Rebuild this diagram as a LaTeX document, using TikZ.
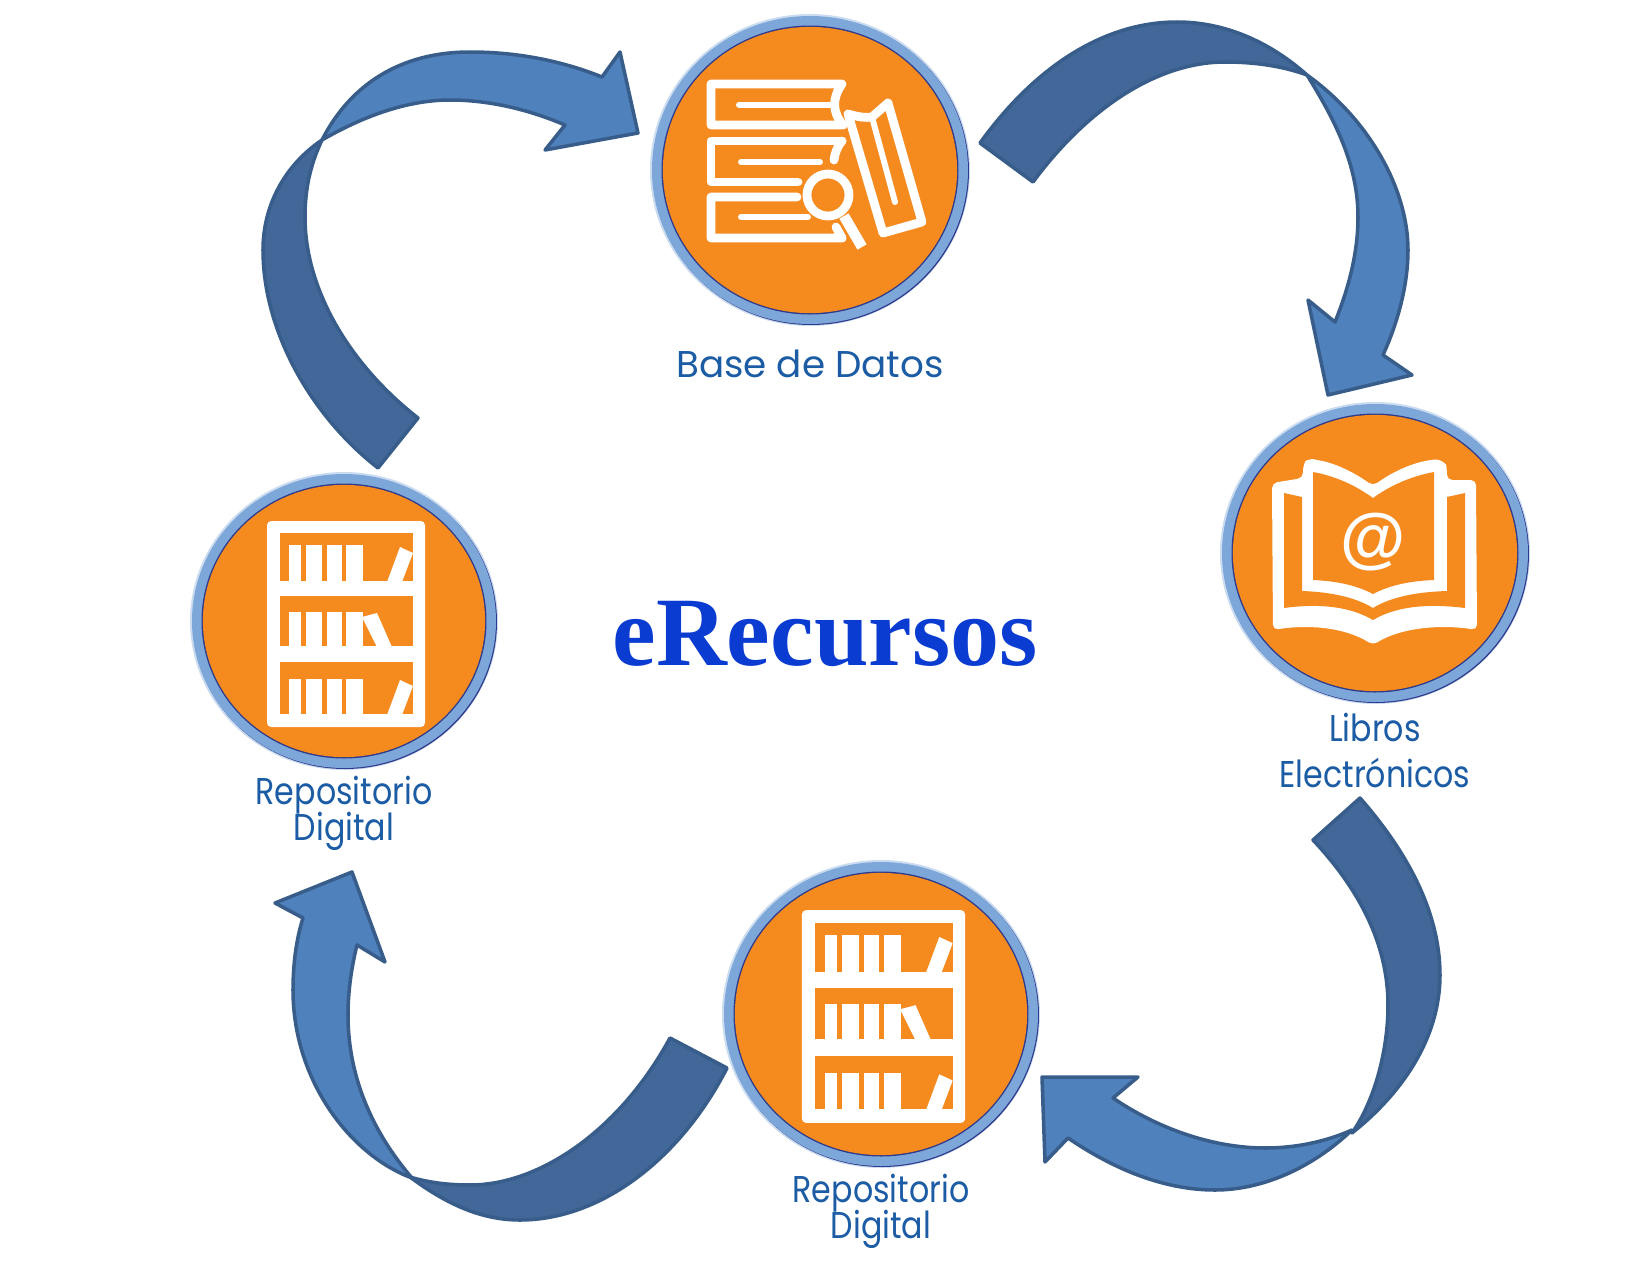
\documentclass[tikz,border=0pt]{standalone}
\usepackage{fontspec}
\usetikzlibrary{positioning,shapes.geometric}
\newfontfamily\labelfont{Poppins}
\newfontfamily\narrowfont[FakeStretch=0.85]{Poppins}
\newfontfamily\titlefont{Liberation Serif}
\newfontfamily\atfont{Liberation Sans}
\definecolor{discOrange}{HTML}{F58A1F}
\definecolor{ringBlue}{HTML}{7DA7D9}
\definecolor{ringNavy}{HTML}{2E3A8C}
\definecolor{arrowEdge}{HTML}{385D8A}
\definecolor{tailBlue}{HTML}{426899}
\definecolor{headBlue}{HTML}{4F81BD}
\definecolor{labelBlue}{HTML}{1B5CA4}
\definecolor{titleBlue}{HTML}{0B3CD2}
%% one shelf unit, drawn around the origin of its scope
\newcommand{\shelfIcon}{%
  \fill[white,rounded corners=1.2pt] (-79,-103) rectangle (79,103);
  \foreach \shelftop/\shelfbase/\booktop in {-91/-43/-79, -28/22/-12, 38/90/55}
  {
    \fill[discOrange] (-66,\shelftop) rectangle (67,\shelfbase);
    \foreach \bookleft/\bookright in {-57/-45, -40/-24, -19/-4, 0/17}
      \fill[white] (\bookleft,\booktop) rectangle (\bookright,\shelfbase+1);
  }
  \fill[white] (41,-42) -- (54,-77) -- (67,-71) -- (56,-42) -- cycle;
  \fill[white] (16,-7) -- (31,-11) -- (46,23) -- (31,23) -- cycle;
  \fill[white] (41,91) -- (54,56) -- (67,62) -- (56,91) -- cycle;
}
\begin{document}
\begin{tikzpicture}
[x=0.01cm,y=-0.01cm,%
  discDecorate/.style={shape=ellipse,inner sep=0pt,fill=discOrange},%
  textDecorate/.style={inner sep=0pt,align=center,text=labelBlue},%
  iconLine/.style={draw=white,line width=2.5pt,line cap=round,line join=round},%
  iconThin/.style={draw=white,line width=1.7pt,line cap=round,line join=round},%
  arrowTail/.style={fill=tailBlue,draw=arrowEdge,line width=1pt,line join=round},%
  arrowHead/.style={fill=headBlue,draw=arrowEdge,line width=1pt,line join=round}]
\useasboundingbox (0,0) rectangle (1650,1275);
%% rings, discs and captions
\foreach \nodename/\x/\y/\rx/\ry/\gap/\capfont/\nodetext in {
  baseDatos/810/170/147/143/10pt/\labelfont/{Base de Datos},
  librosElec/1375/553/142/138/6pt/\narrowfont/{Libros\\[2.8pt]Electrónicos},
  repoLeft/344/621/141/136/5pt/\narrowfont/{Repositorio\\[-1.7pt]Digital},
  repoBottom/881/1014/146/141/5pt/\narrowfont/{Repositorio\\[-1.7pt]Digital}}
{
  \fill[ringBlue,opacity=0.4] (\x,\y) ellipse [x radius=\rx+13,y radius=\ry+13];
  \fill[ringNavy] (\x+1,\y+1) ellipse [x radius=\rx+11,y radius=\ry+11];
  \fill[ringBlue] (\x,\y) ellipse [x radius=\rx+11,y radius=\ry+11];
  \fill[ringNavy] (\x,\y) ellipse [x radius=\rx+1.5,y radius=\ry+1.5];
  \node (\nodename) at (\x,\y) [discDecorate,minimum width=\rx*0.02cm,minimum height=\ry*0.02cm] {};
  \node (\nodename Text) [textDecorate,font=\capfont\fontsize{10.6}{10}\selectfont,below=\gap of \nodename] {\nodetext};
}
\node (title) at (825,665) [anchor=base,inner sep=0pt,text=titleBlue,
  font=\titlefont\bfseries\fontsize{27.9}{30}\selectfont] {eRecursos};
%% arrows, tail part and head part
\draw[arrowTail] (980,143) .. controls (1040,60) and (1110,22) .. (1177,22) .. controls (1225,22) and (1270,42) .. (1307,75)
  .. controls (1280,65) and (1250,62) .. (1225,62) .. controls (1160,62) and (1090,105) .. (1033,182) -- cycle;
\draw[arrowHead] (1307,75) .. controls (1370,120) and (1408,190) .. (1408,250) .. controls (1408,285) and (1398,322) .. (1383,355)
  -- (1412,375) -- (1328,395) -- (1308,300) -- (1335,322)
  .. controls (1350,285) and (1358,250) .. (1358,217) .. controls (1358,165) and (1335,120) .. (1307,75) -- cycle;
\draw[arrowTail] (378,468) .. controls (310,415) and (263,330) .. (263,250) .. controls (263,205) and (285,165) .. (322,140)
  .. controls (310,165) and (305,190) .. (305,217) .. controls (305,290) and (350,365) .. (418,418) -- cycle;
\draw[arrowHead] (322,140) .. controls (350,85) and (400,52) .. (470,52) .. controls (515,52) and (560,60) .. (602,77)
  -- (620,52) -- (638,133) -- (545,150) -- (565,125)
  .. controls (530,110) and (490,100) .. (450,100) .. controls (405,100) and (360,118) .. (322,140) -- cycle;
\draw[arrowTail] (1360,798) .. controls (1410,855) and (1440,915) .. (1440,975) .. controls (1440,1040) and (1400,1095) .. (1352,1133)
  .. controls (1375,1100) and (1388,1050) .. (1388,1005) .. controls (1388,945) and (1360,890) .. (1313,840) -- cycle;
\draw[arrowHead] (1352,1130) .. controls (1310,1170) and (1260,1190) .. (1215,1190) .. controls (1165,1190) and (1115,1170) .. (1068,1138)
  -- (1045,1162) -- (1042,1077) -- (1138,1077) -- (1113,1098)
  .. controls (1160,1130) and (1215,1148) .. (1265,1148) .. controls (1295,1148) and (1325,1142) .. (1352,1130) -- cycle;
\draw[arrowTail] (727,1068) .. controls (680,1160) and (600,1220) .. (520,1220) .. controls (480,1220) and (445,1203) .. (410,1177)
  .. controls (430,1183) and (450,1185) .. (470,1185) .. controls (540,1185) and (620,1130) .. (670,1038) -- cycle;
\draw[arrowHead] (412,1178) .. controls (350,1155) and (293,1080) .. (293,990) .. controls (293,965) and (296,940) .. (303,918)
  -- (275,903) -- (352,872) -- (385,962) -- (357,945)
  .. controls (352,965) and (348,990) .. (348,1015) .. controls (348,1080) and (375,1135) .. (412,1178) -- cycle;
%% book stack and magnifier
\draw[iconLine] (842,84) -- (711,84) -- (711,125) -- (843,125) .. controls (832,112) and (832,98) .. (842,84);
\draw[iconThin] (739,105) -- (830,105);
\draw[iconLine] (842,141) -- (711,141) -- (711,182) -- (798,182);
\draw[iconLine] (842,141) .. controls (837,147) and (835,153) .. (834,160);
\draw[iconThin] (741,162) -- (820,162);
\draw[iconLine] (797,197) -- (711,197) -- (711,238) -- (842,238) .. controls (840,234) and (838,231) .. (836,227);
\draw[iconThin] (741,217) -- (808,217);
\draw[iconLine] (828,195) circle [radius=21];
\draw[line width=3pt,white] (844,216) -- (862,247);
\draw[iconLine] (848,114) .. controls (858,117) and (866,118) .. (872,117) -- (888,103) -- (922,222) -- (883,233) -- cycle;
\draw[iconThin] (872,117) -- (895,202);
%% open book
\fill[white,rounded corners=1.5pt] (1272,483) -- (1303,478) -- (1303,466) .. controls (1306,460) and (1312,459) .. (1318,460)
  .. controls (1340,465) and (1358,475) .. (1373,486) .. controls (1388,475) and (1406,465) .. (1430,460)
  .. controls (1440,459) and (1446,464) .. (1447,470) -- (1447,480) -- (1476,480) -- (1477,630)
  .. controls (1440,624) and (1400,628) .. (1373,645) .. controls (1346,628) and (1310,624) .. (1273,630) -- cycle;
\fill[discOrange] (1313,472) .. controls (1335,476) and (1355,485) .. (1373,498) .. controls (1391,485) and (1412,476) .. (1434,472)
  -- (1434,580) .. controls (1410,581) and (1390,585) .. (1373,594) .. controls (1356,585) and (1336,581) .. (1313,580) -- cycle;
\fill[discOrange] (1284,493) -- (1302,497) -- (1302,591) .. controls (1330,592) and (1355,597) .. (1373,608)
  .. controls (1391,597) and (1416,592) .. (1447,591) -- (1447,497) -- (1465,493) -- (1465,608)
  .. controls (1425,603) and (1395,607) .. (1373,620) .. controls (1351,607) and (1321,603) .. (1284,608) -- cycle;
\node (atSign) at (1373,542) [inner sep=0pt,text=white,font=\atfont\bfseries\fontsize{19}{19}\selectfont] {@};
%% shelves
\begin{scope}[shift={(346,624)}]
  \shelfIcon
\end{scope}
\begin{scope}[shift={(883.5,1016.5)},scale=1.033]
  \shelfIcon
\end{scope}
\end{tikzpicture}
\end{document}
